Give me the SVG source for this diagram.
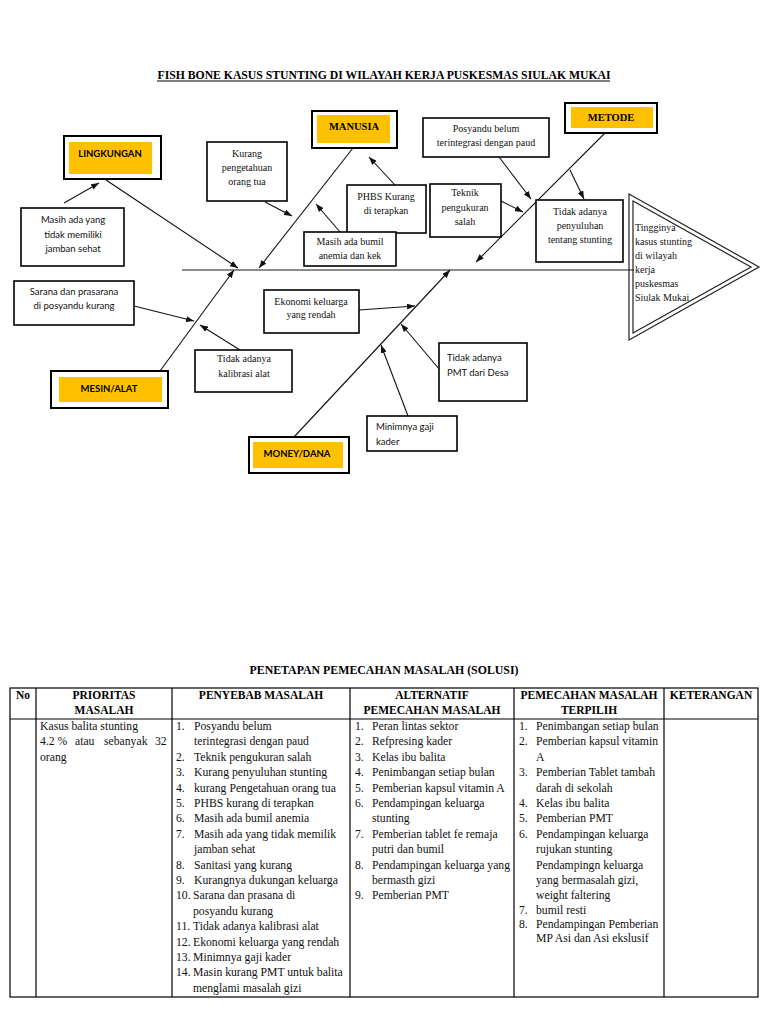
<svg xmlns="http://www.w3.org/2000/svg" width="768" height="1024" viewBox="0 0 768 1024">
<style>
.bg{fill:#fff}
.box{fill:#fff;stroke:#000;stroke-width:1.6}
.hbox{fill:#fff;stroke:#000;stroke-width:2}
.org{fill:#FFC000}
.serif{font-family:"Liberation Serif","Times New Roman",serif;font-size:10px;fill:#111}
.sans{font-family:Lato,"Liberation Sans",sans-serif;font-size:9.5px;fill:#111}
.lblS{font-family:Lato,"Liberation Sans",sans-serif;font-size:9.5px;font-weight:bold;fill:#000}
.lblT{font-family:"Liberation Serif","Times New Roman",serif;font-size:10.5px;font-weight:bold;fill:#000}
.mid{text-anchor:middle}
.arr{stroke:#111;stroke-width:1.1;fill:none;marker-end:url(#ah)}
.title{font-family:"Liberation Serif","Times New Roman",serif;font-size:11.5px;font-weight:bold;fill:#000}
.tb{font-family:"Liberation Serif","Times New Roman",serif;font-size:11.7px;fill:#111}
.th{font-family:"Liberation Serif","Times New Roman",serif;font-size:11.5px;font-weight:bold;fill:#000}
.tl{stroke:#000;stroke-width:1.2;fill:none}
</style>
<defs>
<marker id="ah" markerUnits="userSpaceOnUse" markerWidth="8" markerHeight="6" refX="8" refY="3" orient="auto">
<path d="M0,0 L8,3 L0,6 z" fill="#111"/>
</marker>
</defs>
<rect class="bg" x="0" y="0" width="768" height="1024"/>

<g id="title">
<text class="title mid" x="384" y="79" textLength="453" lengthAdjust="spacingAndGlyphs">FISH BONE KASUS STUNTING DI WILAYAH KERJA PUSKESMAS SIULAK MUKAI</text>
<line x1="157" y1="81" x2="610" y2="81" stroke="#000" stroke-width="1"/>
</g>

<g id="connectors">
<line x1="182" y1="270" x2="634" y2="270" stroke="#666" stroke-width="1.3"/>
<line class="arr" x1="106" y1="180" x2="238" y2="268"/>
<line class="arr" x1="64" y1="203" x2="99" y2="183"/>
<line class="arr" x1="353" y1="148" x2="259" y2="268"/>
<line class="arr" x1="265" y1="202" x2="292" y2="216"/>
<line class="arr" x1="340" y1="232" x2="316" y2="204"/>
<line class="arr" x1="395" y1="185" x2="369" y2="157"/>
<line class="arr" x1="605" y1="133" x2="476" y2="262"/>
<line class="arr" x1="499" y1="157" x2="531" y2="199"/>
<line class="arr" x1="501" y1="201" x2="523" y2="212"/>
<line class="arr" x1="570" y1="170" x2="584" y2="199"/>
<line class="arr" x1="160" y1="371" x2="234" y2="270"/>
<line class="arr" x1="134" y1="306" x2="194" y2="321"/>
<line class="arr" x1="240" y1="350" x2="200" y2="325"/>
<line class="arr" x1="294" y1="437" x2="450" y2="270"/>
<line class="arr" x1="359" y1="310" x2="415" y2="306"/>
<line class="arr" x1="440" y1="370" x2="401" y2="324"/>
<line class="arr" x1="408" y1="416" x2="381" y2="345"/>
</g>

<g id="head">
<polygon points="629,194 629,340 759,267" fill="none" stroke="#222" stroke-width="1.2"/>
<polygon points="633,201 633,333 751,267" fill="none" stroke="#222" stroke-width="1.2"/>
<text class="serif" x="635" y="231">Tingginya</text>
<text class="serif" x="635" y="245">kasus stunting</text>
<text class="serif" x="635" y="259">di wilayah</text>
<text class="serif" x="635" y="273">kerja</text>
<text class="serif" x="635" y="287">puskesmas</text>
<text class="serif" x="635" y="301">Siulak Mukai</text>
</g>

<g id="lingkungan">
<rect class="hbox" x="64" y="136" width="97" height="43"/>
<rect class="org" x="69" y="142" width="83" height="32"/>
<text class="lblS mid" x="110" y="157">LINGKUNGAN</text>
</g>
<g id="manusia">
<rect class="hbox" x="312" y="111" width="85" height="37"/>
<rect class="org" x="317" y="115" width="73" height="28"/>
<text class="lblT mid" x="354" y="130">MANUSIA</text>
</g>
<g id="metode">
<rect class="hbox" x="565" y="103" width="92" height="30"/>
<rect class="org" x="571" y="107" width="82" height="21"/>
<text class="lblT mid" x="611" y="121">METODE</text>
</g>
<g id="mesin">
<rect class="hbox" x="51" y="371" width="117" height="37"/>
<rect class="org" x="59" y="377" width="103" height="25"/>
<text class="lblS mid" x="109" y="392">MESIN/ALAT</text>
</g>
<g id="money">
<rect class="hbox" x="249" y="437" width="100" height="36"/>
<rect class="org" x="253" y="442" width="90" height="26"/>
<text class="lblS mid" x="297" y="457">MONEY/DANA</text>
</g>

<g id="jamban">
<rect class="box" x="21" y="208" width="103" height="58"/>
<text class="sans mid" x="73" y="223">Masih ada yang</text>
<text class="sans mid" x="73" y="238">tidak memiliki</text>
<text class="sans mid" x="73" y="252">jamban sehat</text>
</g>
<g id="kurang-pengetahuan">
<rect class="box" x="207" y="142" width="80" height="59"/>
<text class="serif mid" x="247" y="157">Kurang</text>
<text class="serif mid" x="247" y="171">pengetahuan</text>
<text class="serif mid" x="247" y="185">orang tua</text>
</g>
<g id="phbs">
<rect class="box" x="347" y="185" width="79" height="48"/>
<text class="serif mid" x="386" y="200">PHBS Kurang</text>
<text class="serif mid" x="386" y="214">di terapkan</text>
</g>
<g id="bumil">
<rect class="box" x="304" y="232" width="92" height="34"/>
<text class="serif mid" x="350" y="245">Masih ada bumil</text>
<text class="serif mid" x="350" y="259">anemia dan kek</text>
</g>
<g id="teknik">
<rect class="box" x="430" y="184" width="71" height="53"/>
<text class="serif mid" x="465" y="196">Teknik</text>
<text class="serif mid" x="465" y="211">pengukuran</text>
<text class="serif mid" x="465" y="225">salah</text>
</g>
<g id="posyandu">
<rect class="box" x="423" y="118" width="126" height="39"/>
<text class="serif mid" x="486" y="132">Posyandu belum</text>
<text class="serif mid" x="486" y="146">terintegrasi dengan paud</text>
</g>
<g id="penyuluhan">
<rect class="box" x="536" y="200" width="87" height="62"/>
<text class="serif mid" x="580" y="215">Tidak adanya</text>
<text class="serif mid" x="580" y="229">penyuluhan</text>
<text class="serif mid" x="580" y="243">tentang stunting</text>
</g>
<g id="sarana">
<rect class="box" x="14" y="281" width="120" height="44"/>
<text class="sans mid" x="74" y="295">Sarana dan prasarana</text>
<text class="sans mid" x="74" y="309">di posyandu kurang</text>
</g>
<g id="kalibrasi">
<rect class="box" x="195" y="350" width="97" height="42"/>
<text class="serif mid" x="244" y="362">Tidak adanya</text>
<text class="serif mid" x="244" y="377">kalibrasi alat</text>
</g>
<g id="ekonomi">
<rect class="box" x="264" y="290" width="95" height="43"/>
<text class="serif mid" x="311" y="305">Ekonomi keluarga</text>
<text class="serif mid" x="311" y="318">yang rendah</text>
</g>
<g id="pmt">
<rect class="box" x="439" y="343" width="88" height="58"/>
<text class="sans" x="447" y="361">Tidak adanya</text>
<text class="sans" x="447" y="376">PMT dari Desa</text>
</g>
<g id="gaji">
<rect class="box" x="367" y="416" width="90" height="35"/>
<text class="sans" x="376" y="430">Minimnya gaji</text>
<text class="sans" x="376" y="445">kader</text>
</g>

<g id="table">
<text class="th mid" x="384" y="674" textLength="269" lengthAdjust="spacingAndGlyphs">PENETAPAN PEMECAHAN MASALAH (SOLUSI)</text>
<rect class="tl" x="10" y="688" width="748" height="309"/>
<line class="tl" x1="10" y1="719" x2="758" y2="719"/>
<line class="tl" x1="36" y1="688" x2="36" y2="997"/>
<line class="tl" x1="172" y1="688" x2="172" y2="997"/>
<line class="tl" x1="350" y1="688" x2="350" y2="997"/>
<line class="tl" x1="514" y1="688" x2="514" y2="997"/>
<line class="tl" x1="664" y1="688" x2="664" y2="997"/>

<text class="th" x="16" y="699">No</text>
<text class="th mid" x="104" y="699">PRIORITAS</text>
<text class="th mid" x="104" y="714">MASALAH</text>
<text class="th mid" x="261" y="699">PENYEBAB MASALAH</text>
<text class="th mid" x="432" y="699">ALTERNATIF</text>
<text class="th mid" x="432" y="714">PEMECAHAN MASALAH</text>
<text class="th mid" x="589" y="699">PEMECAHAN MASALAH</text>
<text class="th mid" x="589" y="714">TERPILIH</text>
<text class="th mid" x="711" y="699">KETERANGAN</text>

<text class="tb" x="40" y="730">Kasus balita stunting</text>
<text class="tb" x="40" y="745">4.2 %</text>
<text class="tb" x="75" y="745">atau</text>
<text class="tb" x="104" y="745">sebanyak</text>
<text class="tb" x="155" y="745">32</text>
<text class="tb" x="40" y="761">orang</text>

<g class="tb">
<text x="176" y="730">1.</text><text x="194" y="730">Posyandu belum</text>
<text x="194" y="745">terintegrasi dengan paud</text>
<text x="176" y="761">2.</text><text x="194" y="761">Teknik pengukuran salah</text>
<text x="176" y="776">3.</text><text x="194" y="776">Kurang penyuluhan stunting</text>
<text x="176" y="792">4.</text><text x="194" y="792">kurang Pengetahuan orang tua</text>
<text x="176" y="807">5.</text><text x="194" y="807">PHBS kurang di terapkan</text>
<text x="176" y="822">6.</text><text x="194" y="822">Masih ada bumil anemia</text>
<text x="176" y="838">7.</text><text x="194" y="838">Masih ada yang tidak memilik</text>
<text x="194" y="853">jamban sehat</text>
<text x="176" y="869">8.</text><text x="194" y="869">Sanitasi yang kurang</text>
<text x="176" y="884">9.</text><text x="194" y="884">Kurangnya dukungan keluarga</text>
<text x="176" y="899">10.</text><text x="193" y="899">Sarana dan prasana di</text>
<text x="193" y="915">posyandu kurang</text>
<text x="176" y="930">11.</text><text x="193" y="930">Tidak adanya kalibrasi alat</text>
<text x="176" y="946">12.</text><text x="193" y="946">Ekonomi keluarga yang rendah</text>
<text x="176" y="961">13.</text><text x="193" y="961">Minimnya gaji kader</text>
<text x="176" y="976">14.</text><text x="193" y="976">Masin kurang PMT untuk balita</text>
<text x="193" y="992">menglami masalah gizi</text>
</g>

<g class="tb">
<text x="355" y="730">1.</text><text x="372" y="730">Peran lintas sektor</text>
<text x="355" y="745">2.</text><text x="372" y="745">Refpresing kader</text>
<text x="355" y="761">3.</text><text x="372" y="761">Kelas ibu balita</text>
<text x="355" y="776">4.</text><text x="372" y="776">Penimbangan setiap bulan</text>
<text x="355" y="792">5.</text><text x="372" y="792">Pemberian kapsul vitamin A</text>
<text x="355" y="807">6.</text><text x="372" y="807">Pendampingan keluarga</text>
<text x="372" y="822">stunting</text>
<text x="355" y="838">7.</text><text x="372" y="838">Pemberian tablet fe remaja</text>
<text x="372" y="853">putri dan bumil</text>
<text x="355" y="869">8.</text><text x="372" y="869">Pendampingan keluarga yang</text>
<text x="372" y="884">bermasth gizi</text>
<text x="355" y="899">9.</text><text x="372" y="899">Pemberian PMT</text>
</g>

<g class="tb">
<text x="519" y="730">1.</text><text x="536" y="730">Penimbangan setiap bulan</text>
<text x="519" y="745">2.</text><text x="536" y="745">Pemberian kapsul vitamin</text>
<text x="536" y="761">A</text>
<text x="519" y="776">3.</text><text x="536" y="776">Pemberian Tablet tambah</text>
<text x="536" y="792">darah di sekolah</text>
<text x="519" y="807">4.</text><text x="536" y="807">Kelas ibu balita</text>
<text x="519" y="822">5.</text><text x="536" y="822">Pemberian PMT</text>
<text x="519" y="838">6.</text><text x="536" y="838">Pendampingan keluarga</text>
<text x="536" y="853">rujukan stunting</text>
<text x="536" y="869">Pendampingn keluarga</text>
<text x="536" y="884">yang bermasalah gizi,</text>
<text x="536" y="899">weight faltering</text>
<text x="519" y="914">7.</text><text x="536" y="914">bumil resti</text>
<text x="519" y="928">8.</text><text x="536" y="928">Pendampingan Pemberian</text>
<text x="536" y="942">MP Asi dan Asi ekslusif</text>
</g>
</g>
</svg>
